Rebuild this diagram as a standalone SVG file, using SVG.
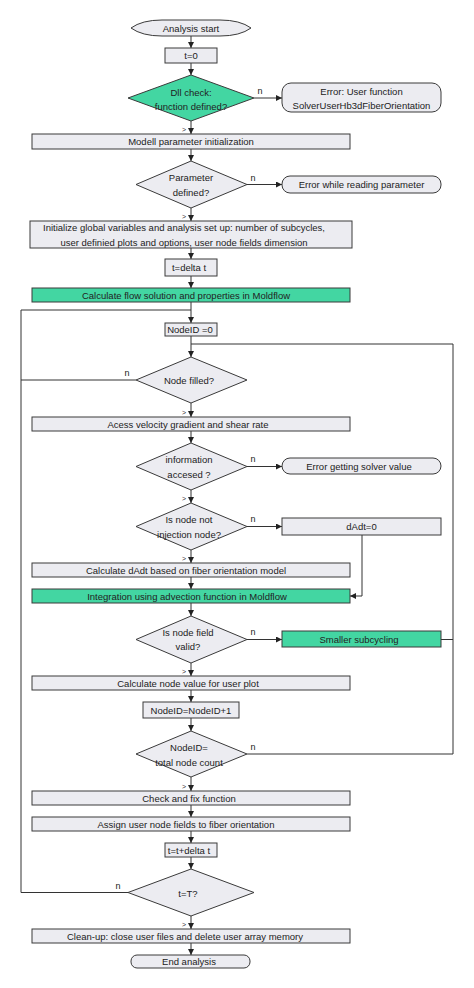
<svg xmlns="http://www.w3.org/2000/svg" width="474" height="988" viewBox="0 0 474 988">
<defs>
<style>
.b{fill:#ececf1;stroke:#3a3a3a;stroke-width:1}
.g{fill:#43d6a2;stroke:#3a3a3a;stroke-width:1}
.t{font-family:"Liberation Sans",Arial,sans-serif;font-size:9.5px;fill:#222;text-anchor:middle;dominant-baseline:central}
.s{font-family:"Liberation Sans",Arial,sans-serif;font-size:9px;fill:#222;text-anchor:middle;dominant-baseline:central}
.m{font-family:"Liberation Sans",Arial,sans-serif;font-size:7px;fill:#333;text-anchor:middle;dominant-baseline:central}
.c{fill:none;stroke:#333;stroke-width:1}
</style>
<marker id="a" markerWidth="6" markerHeight="6" refX="6" refY="3" orient="auto" markerUnits="userSpaceOnUse">
<path d="M0,0 L6,3 L0,6 z" fill="#222"/>
</marker>
</defs>
<rect width="474" height="988" fill="#fff"/>
<g id="connectors">
<path class="c" d="M191,36V48" marker-end="url(#a)"/>
<path class="c" d="M191,63V75" marker-end="url(#a)"/>
<path class="c" d="M254,98H282" marker-end="url(#a)"/>
<path class="c" d="M191,121V134" marker-end="url(#a)"/>
<path class="c" d="M191,149V161" marker-end="url(#a)"/>
<path class="c" d="M247,184.5H282" marker-end="url(#a)"/>
<path class="c" d="M191,208V221" marker-end="url(#a)"/>
<path class="c" d="M191,248V259" marker-end="url(#a)"/>
<path class="c" d="M191,276V288" marker-end="url(#a)"/>
<path class="c" d="M191,302V323" marker-end="url(#a)"/>
<path class="c" d="M128,892.5H21V310H191"/>
<path class="c" d="M191,336V357" marker-end="url(#a)"/>
<path class="c" d="M247,754H453V344H191"/>
<path class="c" d="M441,639.5H453"/>
<path class="c" d="M136,380H21"/>
<path class="c" d="M191,403V417" marker-end="url(#a)"/>
<path class="c" d="M191,431V443" marker-end="url(#a)"/>
<path class="c" d="M247,466.5H282" marker-end="url(#a)"/>
<path class="c" d="M191,490V503" marker-end="url(#a)"/>
<path class="c" d="M247,526.5H282" marker-end="url(#a)"/>
<path class="c" d="M362,535V596H350" marker-end="url(#a)"/>
<path class="c" d="M191,550V563" marker-end="url(#a)"/>
<path class="c" d="M191,577V589" marker-end="url(#a)"/>
<path class="c" d="M191,603V616" marker-end="url(#a)"/>
<path class="c" d="M247,639.5H282" marker-end="url(#a)"/>
<path class="c" d="M191,663V676" marker-end="url(#a)"/>
<path class="c" d="M191,690V702" marker-end="url(#a)"/>
<path class="c" d="M191,718V731" marker-end="url(#a)"/>
<path class="c" d="M191,777V791" marker-end="url(#a)"/>
<path class="c" d="M191,805V817" marker-end="url(#a)"/>
<path class="c" d="M191,831V843" marker-end="url(#a)"/>
<path class="c" d="M191,857V869" marker-end="url(#a)"/>
<path class="c" d="M191,916V929" marker-end="url(#a)"/>
<path class="c" d="M191,943V955" marker-end="url(#a)"/>
<text class="s" x="260" y="91">n</text>
<text class="s" x="253" y="178">n</text>
<text class="s" x="127" y="373">n</text>
<text class="s" x="253" y="459">n</text>
<text class="s" x="253" y="519">n</text>
<text class="s" x="253" y="632">n</text>
<text class="s" x="253" y="747">n</text>
<text class="s" x="118" y="886">n</text>
<text class="m" x="184" y="129">&gt;</text>
<text class="m" x="184" y="216">&gt;</text>
<text class="m" x="184" y="412">&gt;</text>
<text class="m" x="184" y="498">&gt;</text>
<text class="m" x="184" y="558">&gt;</text>
<text class="m" x="184" y="671">&gt;</text>
<text class="m" x="184" y="786">&gt;</text>
<text class="m" x="184" y="924">&gt;</text>
</g>
<g id="start"><path class="b" d="M131,28 Q142,20 162,20 L220,20 Q240,20 251,28 Q240,36 220,36 L162,36 Q142,36 131,28 Z"/><text class="t" x="191" y="28">Analysis start</text></g>
<g id="t0"><rect class="b" x="165" y="48" width="52" height="15"/><text class="t" x="191" y="55.5">t=0</text></g>
<g id="dll"><polygon class="g" points="191,75 254,98 191,121 128,98"/><text class="t" x="191" y="92">Dll check:</text><text class="t" x="191" y="106">function defined?</text></g>
<g id="err1"><rect class="b" x="282" y="83" width="159" height="29" rx="9"/><text class="t" x="361.5" y="91">Error: User function</text><text class="t" x="361.5" y="105">SolverUserHb3dFiberOrientation</text></g>
<g id="modell"><rect class="b" x="32" y="134" width="318" height="15"/><text class="t" x="191" y="141.5">Modell parameter initialization</text></g>
<g id="param"><polygon class="b" points="191,161 247,184.5 191,208 136,184.5"/><text class="t" x="191" y="177">Parameter</text><text class="t" x="191" y="192">defined?</text></g>
<g id="err2"><rect class="b" x="282" y="176" width="159" height="17" rx="8"/><text class="t" x="361.5" y="184.5">Error while reading parameter</text></g>
<g id="init"><rect class="b" x="30" y="221" width="322" height="27"/><text class="t" x="184" y="227.5">Initialize global variables and analysis set up: number of subcycles,</text><text class="t" x="184" y="242">user definied plots and options, user node fields dimension</text></g>
<g id="tdelta"><rect class="b" x="165" y="259" width="52" height="17"/><text class="t" x="189" y="267.5">t=delta t</text></g>
<g id="flow"><rect class="g" x="32" y="288" width="318" height="14"/><text class="t" x="186" y="295">Calculate flow solution and properties in Moldflow</text></g>
<g id="nodeid0"><rect class="b" x="165" y="323" width="52" height="13"/><text class="t" x="190" y="329.5">NodeID =0</text></g>
<g id="filled"><polygon class="b" points="191,357 247,380 191,403 136,380"/><text class="t" x="189" y="380">Node filled?</text></g>
<g id="acess"><rect class="b" x="32" y="417" width="318" height="14"/><text class="t" x="188" y="424">Acess velocity gradient and shear rate</text></g>
<g id="info"><polygon class="b" points="191,443 247,466.5 191,490 136,466.5"/><text class="t" x="189" y="459">information</text><text class="t" x="189" y="474">accesed ?</text></g>
<g id="err3"><rect class="b" x="282" y="458" width="159" height="16" rx="8"/><text class="t" x="359" y="466">Error getting solver value</text></g>
<g id="inj"><polygon class="b" points="191,503 247,526.5 191,550 136,526.5"/><text class="t" x="189" y="519">Is node not</text><text class="t" x="189" y="534">injection node?</text></g>
<g id="dadt0"><rect class="b" x="282" y="518" width="159" height="17"/><text class="t" x="361.5" y="526.5">dAdt=0</text></g>
<g id="calcdadt"><rect class="b" x="32" y="563" width="318" height="14"/><text class="t" x="186" y="570">Calculate dAdt based on fiber orientation model</text></g>
<g id="integ"><rect class="g" x="32" y="589" width="318" height="14"/><text class="t" x="187" y="596">Integration using advection function in Moldflow</text></g>
<g id="valid"><polygon class="b" points="191,616 247,639.5 191,663 136,639.5"/><text class="t" x="188" y="632">Is node field</text><text class="t" x="188" y="646">valid?</text></g>
<g id="smaller"><rect class="g" x="282" y="631" width="159" height="16"/><text class="t" x="359" y="639">Smaller subcycling</text></g>
<g id="calcnode"><rect class="b" x="32" y="676" width="318" height="14"/><text class="t" x="188" y="683">Calculate node value for user plot</text></g>
<g id="nodeinc"><rect class="b" x="143" y="702" width="96" height="16"/><text class="t" x="191" y="710">NodeID=NodeID+1</text></g>
<g id="count"><polygon class="b" points="191,731 247,754 191,777 136,754"/><text class="t" x="189" y="747">NodeID=</text><text class="t" x="189" y="762">total node count</text></g>
<g id="check"><rect class="b" x="32" y="791" width="318" height="14"/><text class="t" x="189" y="798">Check and fix function</text></g>
<g id="assign"><rect class="b" x="32" y="817" width="318" height="14"/><text class="t" x="186" y="824">Assign user node fields to fiber orientation</text></g>
<g id="tinc"><rect class="b" x="165" y="843" width="52" height="14"/><text class="t" x="189" y="850">t=t+delta t</text></g>
<g id="tT"><polygon class="b" points="191,869 254,892.5 191,916 128,892.5"/><text class="t" x="188" y="893">t=T?</text></g>
<g id="cleanup"><rect class="b" x="32" y="929" width="318" height="14"/><text class="t" x="185" y="936">Clean-up: close user files and delete user array memory</text></g>
<g id="end"><rect class="b" x="131" y="955" width="119" height="13" rx="6"/><text class="t" x="189" y="961.5">End analysis</text></g>
</svg>
